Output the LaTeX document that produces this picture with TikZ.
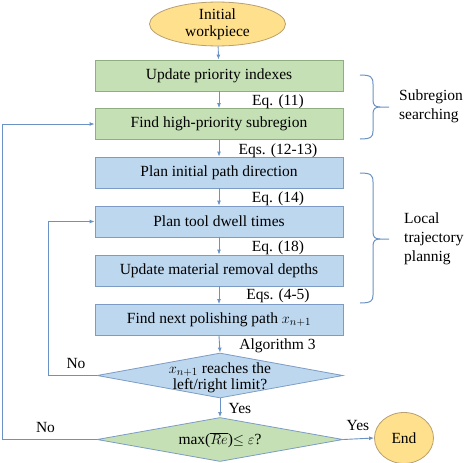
\documentclass[tikz,border=0pt]{standalone}
\usepackage{amsmath}
\usepackage{fontspec}
\setmainfont{LiberationSerif}[Extension=.ttf, UprightFont=*-Regular, BoldFont=*-Bold, ItalicFont=*-Italic, BoldItalicFont=*-BoldItalic]
\usetikzlibrary{shapes.geometric,arrows.meta}
\definecolor{gfill}{HTML}{C5E0B4}
\definecolor{gdraw}{HTML}{8FAE82}
\definecolor{bfill}{HTML}{BDD7EE}
\definecolor{bdraw}{HTML}{7C9CC6}
\definecolor{yfill}{HTML}{FFE08C}
\definecolor{ydraw}{HTML}{B8A070}
\definecolor{arr}{HTML}{6A92C4}
\definecolor{brc}{HTML}{6A92C4}
\tikzset{
  txt/.style={font=\rmfamily\fontsize{15.5}{18}\selectfont, text=black},
  gbox/.style={rectangle, draw=gdraw, fill=gfill, line width=0.8pt, minimum width=248pt, minimum height=31pt, inner sep=0pt, txt},
  bbox/.style={rectangle, draw=bdraw, fill=bfill, line width=0.8pt, minimum width=248pt, minimum height=31pt, inner sep=0pt, txt},
  term/.style={ellipse, draw=ydraw, fill=yfill, line width=0.8pt, inner sep=0pt, txt, align=center},
  dia/.style={diamond, draw=bdraw, line width=0.8pt, inner sep=0pt, minimum width=246pt, minimum height=45pt},
  conn/.style={draw=arr, line width=0.9pt, -{Latex[length=5pt,width=4pt]}},
  lab/.style={txt, inner sep=0pt},
  bracepath/.style={draw=brc, line width=1pt},
}
\begin{document}
\begin{tikzpicture}[x=1pt,y=-1pt]
\useasboundingbox (0,0) rectangle (474,463);
% terminals
\node[term, minimum width=136pt, minimum height=42pt] (start) at (217.5,24) {Initial\\[-1pt]workpiece};
% boxes
\node[gbox] (b1) at (219,75.5) {Update priority indexes};
\node[gbox] (b2) at (219,124) {Find high-priority subregion};
\node[bbox] (b3) at (219,172.5) {Plan initial path direction};
\node[bbox] (b4) at (219,221.5) {Plan tool dwell times};
\node[bbox] (b5) at (219,270.5) {Update material removal depths};
\node[bbox] (b6) at (219,320) {Find next polishing path $x_{n+1}$};
% decisions
\node[dia, fill=bfill] (d1) at (220,375.5) {};
\node[lab, align=center] (d1t) at (220,378) {$x_{n+1}$ reaches the\\[-2pt]left/right limit?};
\node[dia, fill=gfill, minimum height=44pt] (d2) at (220,439.5) {};
\node[lab] (d2t) at (220,440) {max($\overline{Re}$)$\leq$ $\varepsilon$?};
\node[term, minimum width=59pt, minimum height=51pt] (end) at (404,438) {End};
% connectors
\draw[conn] (start) -- (b1);
\draw[conn] (b1) -- (b2);
\draw[conn] (b2) -- (b3);
\draw[conn] (b3) -- (b4);
\draw[conn] (b4) -- (b5);
\draw[conn] (b5) -- (b6);
\draw[conn] (b6.south) -- (d1.north);
\draw[conn] (d1.south) -- (d2.north);
\draw[conn] (d2.east) -- (end.west);
\coordinate (l1) at (48,375.5);
\coordinate (l2) at (2,439.5);
\draw[conn] (d1.west) -- (l1) |- (b4.west);
\draw[conn] (d2.west) -- (l2) |- (b2.west);
% labels
\node[lab] (e1) at (278,102) {Eq. (11)};
\node[lab] (e2) at (278,150.5) {Eqs. (12-13)};
\node[lab] (e3) at (278,198.5) {Eq. (14)};
\node[lab] (e4) at (278,247.5) {Eq. (18)};
\node[lab] (e5) at (278,296) {Eqs. (4-5)};
\node[lab] (e6) at (277.5,346) {Algorithm 3};
\node[lab] (y1) at (240,408) {Yes};
\node[lab] (n1) at (76,363) {No};
\node[lab] (n2) at (45.5,427) {No};
\node[lab] (y2) at (358,425) {Yes};
% braces
\draw[bracepath] (360,75) .. controls (371,75) and (373,77) .. (373,84) -- (373,100) .. controls (373,105) and (375,107) .. (380,107) -- (389,107);
\draw[bracepath] (380,107) .. controls (375,107) and (373,109) .. (373,114) -- (373,131) .. controls (373,137) and (371,139) .. (360,139);
\draw[bracepath] (360,173) .. controls (371,173) and (373,175) .. (373,182) -- (373,232) .. controls (373,237) and (375,239) .. (380,239) -- (389,239);
\draw[bracepath] (380,239) .. controls (375,239) and (373,241) .. (373,246) -- (373,295) .. controls (373,301) and (371,303) .. (360,303);
\node[lab, align=left, anchor=west] (s1) at (399,106) {Subregion\\[1pt]searching};
\node[lab, align=left, anchor=west] (s2) at (404,239) {Local\\[1pt]trajectory\\[1pt]plannig};
\end{tikzpicture}
\end{document}
